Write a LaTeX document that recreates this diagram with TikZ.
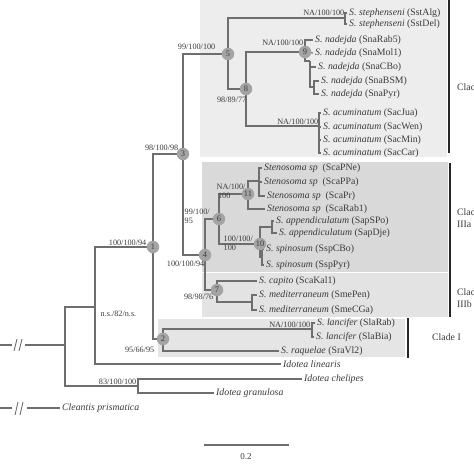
\documentclass[tikz,border=0pt]{standalone}
\usepackage{fontspec}
\setmainfont{Liberation Serif}
\usetikzlibrary{positioning}
\newcommand{\taxon}[2]{\textit{#1} (#2)}
\definecolor{branch}{HTML}{6E6E6E}
\definecolor{txt}{HTML}{3A3A3A}
\definecolor{nodegray}{HTML}{A4A4A4}

\begin{document}
\begin{tikzpicture}[
  x=1pt, y=-1pt,
  br/.style={draw=branch, line width=1.1pt},
  tip/.style={anchor=west, inner sep=2pt, font=\fontsize{9.8}{11}\selectfont, text=txt},
  supp/.style={inner sep=0.5pt, font=\fontsize{8.2}{9.6}\selectfont, text=txt},
  nodenum/.style={circle, fill=nodegray, minimum size=12.5pt, inner sep=0pt, font=\fontsize{8.4}{8.4}\selectfont, text=txt},
  clbar/.style={line width=2pt, draw=black!85},
  cllab/.style={anchor=west, align=left, inner sep=0pt, font=\fontsize{9.8}{12}\selectfont, text=txt}
]
\useasboundingbox (0,0) rectangle (474,474);

% clade boxes
\fill[gray!14] (200,-2) rectangle (447,157);
\fill[gray!30] (202,162) rectangle (448,272);
\fill[gray!22] (202,273) rectangle (448,317);
\fill[gray!20] (158,319) rectangle (405,357);

% internal nodes
\coordinate (ig) at (65,345);
\coordinate (nA) at (95,307);
\coordinate (nB) at (138,386);
\coordinate (n1) at (153,247);
\coordinate (n2) at (163,339);
\coordinate (n3) at (183,154);
\coordinate (n4) at (205,255);
\coordinate (n5) at (228,54);
\coordinate (n6) at (219,219);
\coordinate (n7) at (217,290);
\coordinate (n8) at (246,89);
\coordinate (n9) at (305,52);
\coordinate (n10) at (260,244);
\coordinate (n11) at (248,194);
\coordinate (nSst) at (345,18);
\coordinate (nCBo) at (310,61);
\coordinate (nBSM) at (314,87);
\coordinate (nSac) at (319,126);
\coordinate (nPN) at (259,181);
\coordinate (nSap) at (272,227);
\coordinate (nSsp) at (262,257);
\coordinate (nSme) at (252,302);
\coordinate (nSla) at (312,329);

% tips
\node[tip] (tSstAlg) at (347,13) {\taxon{S. stephenseni}{SstAlg}};
\node[tip] (tSstDel) at (347,24) {\taxon{S. stephenseni}{SstDel}};
\node[tip] (tSnaRab5) at (313,40) {\taxon{S. nadejda}{SnaRab5}};
\node[tip] (tSnaMol1) at (313,53) {\taxon{S. nadejda}{SnaMol1}};
\node[tip] (tSnaCBo) at (316,67) {\taxon{S. nadejda}{SnaCBo}};
\node[tip] (tSnaBSM) at (319,81) {\taxon{S. nadejda}{SnaBSM}};
\node[tip] (tSnaPyr) at (319,94) {\taxon{S. nadejda}{SnaPyr}};
\node[tip] (tSacJua) at (321,113) {\taxon{S. acuminatum}{SacJua}};
\node[tip] (tSacWen) at (321,127) {\taxon{S. acuminatum}{SacWen}};
\node[tip] (tSacMin) at (321,140) {\taxon{S. acuminatum}{SacMin}};
\node[tip] (tSacCar) at (321,153) {\taxon{S. acuminatum}{SacCar}};
\node[tip] (tScaPNe) at (262,168) {\textit{Stenosoma sp}\ \ (ScaPNe)};
\node[tip] (tScaPPa) at (262,182) {\textit{Stenosoma sp}\ \ (ScaPPa)};
\node[tip] (tScaPr) at (265,196) {\textit{Stenosoma sp}\ \ (ScaPr)};
\node[tip] (tScaRab1) at (265,209) {\textit{Stenosoma sp}\ \ (ScaRab1)};
\node[tip] (tSapSPo) at (274,221) {\taxon{S. appendiculatum}{SapSPo}};
\node[tip] (tSapDje) at (277,233) {\taxon{S. appendiculatum}{SapDje}};
\node[tip] (tSspCBo) at (264,249) {\taxon{S. spinosum}{SspCBo}};
\node[tip] (tSspPyr) at (264,265) {\taxon{S. spinosum}{SspPyr}};
\node[tip] (tScaKal1) at (257,281) {\taxon{S. capito}{ScaKal1}};
\node[tip] (tSmePen) at (257,295) {\taxon{S. mediterraneum}{SmePen}};
\node[tip] (tSmeCGa) at (257,310) {\taxon{S. mediterraneum}{SmeCGa}};
\node[tip] (tSlaRab) at (315,323) {\taxon{S. lancifer}{SlaRab}};
\node[tip] (tSlaBia) at (314,337) {\taxon{S. lancifer}{SlaBia}};
\node[tip] (tSraVl2) at (279,351) {\taxon{S. raquelae}{SraVl2}};
\node[tip] (tLin) at (281,364) {\textit{Idotea linearis}};
\node[tip] (tChe) at (302,379) {\textit{Idotea chelipes}};
\node[tip] (tGra) at (214,393) {\textit{Idotea granulosa}};
\node[tip] (tCle) at (60,408) {\textit{Cleantis prismatica}};

% branches
\draw[br] (n3) |- (n5);
\draw[br] (n5) |- (nSst);
\draw[br] (nSst) |- (tSstAlg.west);
\draw[br] (nSst) |- (tSstDel.west);
\draw[br] (n5) |- (n8);
\draw[br] (n8) |- (n9);
\draw[br] (n9) |- (tSnaRab5.west);
\draw[br] (n9) -- (tSnaMol1.west);
\draw[br] (n9) |- (nCBo);
\draw[br] (nCBo) |- (tSnaCBo.west);
\draw[br] (nCBo) |- (nBSM);
\draw[br] (nBSM) |- (tSnaBSM.west);
\draw[br] (nBSM) |- (tSnaPyr.west);
\draw[br] (n8) |- (nSac);
\foreach \t in {tSacJua,tSacWen,tSacMin,tSacCar}
  \draw[br] (nSac) |- (\t.west);
\draw[br] (n1) |- (n3);
\draw[br] (n3) |- (n4);
\draw[br] (n4) |- (n6);
\draw[br] (n6) |- (n11);
\draw[br] (n11) |- (nPN);
\foreach \t in {tScaPNe,tScaPPa,tScaPr}
  \draw[br] (nPN) |- (\t.west);
\draw[br] (n11) |- (tScaRab1.west);
\draw[br] (n6) |- (n10);
\draw[br] (n10) |- (nSap);
\draw[br] (nSap) |- (tSapSPo.west);
\draw[br] (nSap) |- (tSapDje.west);
\draw[br] (n10) |- (nSsp);
\draw[br] (nSsp) |- (tSspCBo.west);
\draw[br] (nSsp) |- (tSspPyr.west);
\draw[br] (n4) |- (n7);
\draw[br] (n7) |- (tScaKal1.west);
\draw[br] (n7) |- (nSme);
\draw[br] (nSme) |- (tSmePen.west);
\draw[br] (nSme) |- (tSmeCGa.west);
\draw[br] (n1) |- (n2);
\draw[br] (n2) |- (nSla);
\draw[br] (nSla) |- (tSlaRab.west);
\draw[br] (nSla) |- (tSlaBia.west);
\draw[br] (n2) |- (tSraVl2.west);
\draw[br] (nA) |- (n1);
\draw[br] (nA) |- (tLin.west);
\draw[br] (ig) |- (nA);
\draw[br] (ig) |- (nB);
\draw[br] (nB) |- (tChe.west);
\draw[br] (nB) |- (tGra.west);

% broken root branches
\coordinate (r0) at (0,345);
\coordinate (r1) at (12,345);
\coordinate (r2) at (25,345);
\draw[br] (r0) -- (r1);
\draw[br] (r2) -- (ig);
\draw[br, line width=0.9pt] (14,351) -- (17,339) (19,351) -- (22,339);
\coordinate (c0) at (0,408);
\coordinate (c1) at (12,408);
\coordinate (c2) at (27,408);
\draw[br] (c0) -- (c1);
\draw[br] (c2) -- (tCle.west);
\draw[br, line width=0.9pt] (15,415) -- (18,402) (20,415) -- (23,402);

% numbered nodes
\foreach \n in {1,...,11}
  \node[nodenum] (c\n) at (n\n) {\n};

% support values
\node[supp, anchor=east] (s5) at (216,47) {99/100/100};
\node[supp, anchor=east] (sSst) at (345,13) {NA/100/100};
\node[supp, anchor=east] (s9) at (304,43) {NA/100/100};
\node[supp, anchor=east] (s8) at (247,100) {98/89/77};
\node[supp, anchor=east] (sSac) at (319,122) {NA/100/100};
\node[supp, anchor=east] (s3) at (179,148) {98/100/98};
\node[supp, anchor=east] (s1) at (147,243) {100/100/94};
\node[supp, anchor=east] (s4) at (205,264) {100/100/94};
\node[supp, anchor=north west, align=left] (s6) at (184,208) {99/100/\\95};
\node[supp, anchor=north west, align=left] (s11) at (216,183) {NA/100/\\\,100};
\node[supp, anchor=north west, align=left] (s10) at (223,235) {100/100/\\100};
\node[supp, anchor=east] (s7) at (214,297) {98/98/76};
\node[supp, anchor=east] (sSla) at (311,325) {NA/100/100};
\node[supp, anchor=east] (s2) at (155,350) {95/66/95};
\node[supp, anchor=west] (sA) at (100,314) {n.s./82/n.s.};
\node[supp, anchor=east] (sB) at (137,382) {83/100/100};

% clades
\draw[clbar] (449,-2) -- (449,153);
\draw[clbar] (450,163) -- (450,317);
\draw[clbar] (408,318) -- (408,358);
\node[cllab] (lII) at (457,87) {Clade II};
\node[cllab] (lIIIa) at (457,218) {Clade\\IIIa};
\node[cllab] (lIIIb) at (457,298) {Clade\\IIIb};
\node[cllab] (lI) at (432,337) {Clade I};

% scale
\coordinate (sb0) at (204,445);
\coordinate (sb1) at (289,445);
\draw[br] (sb0) -- (sb1);
\node[supp, font=\fontsize{9}{10}\selectfont] (sbl) at (246,457) {0.2};
\end{tikzpicture}
\end{document}
